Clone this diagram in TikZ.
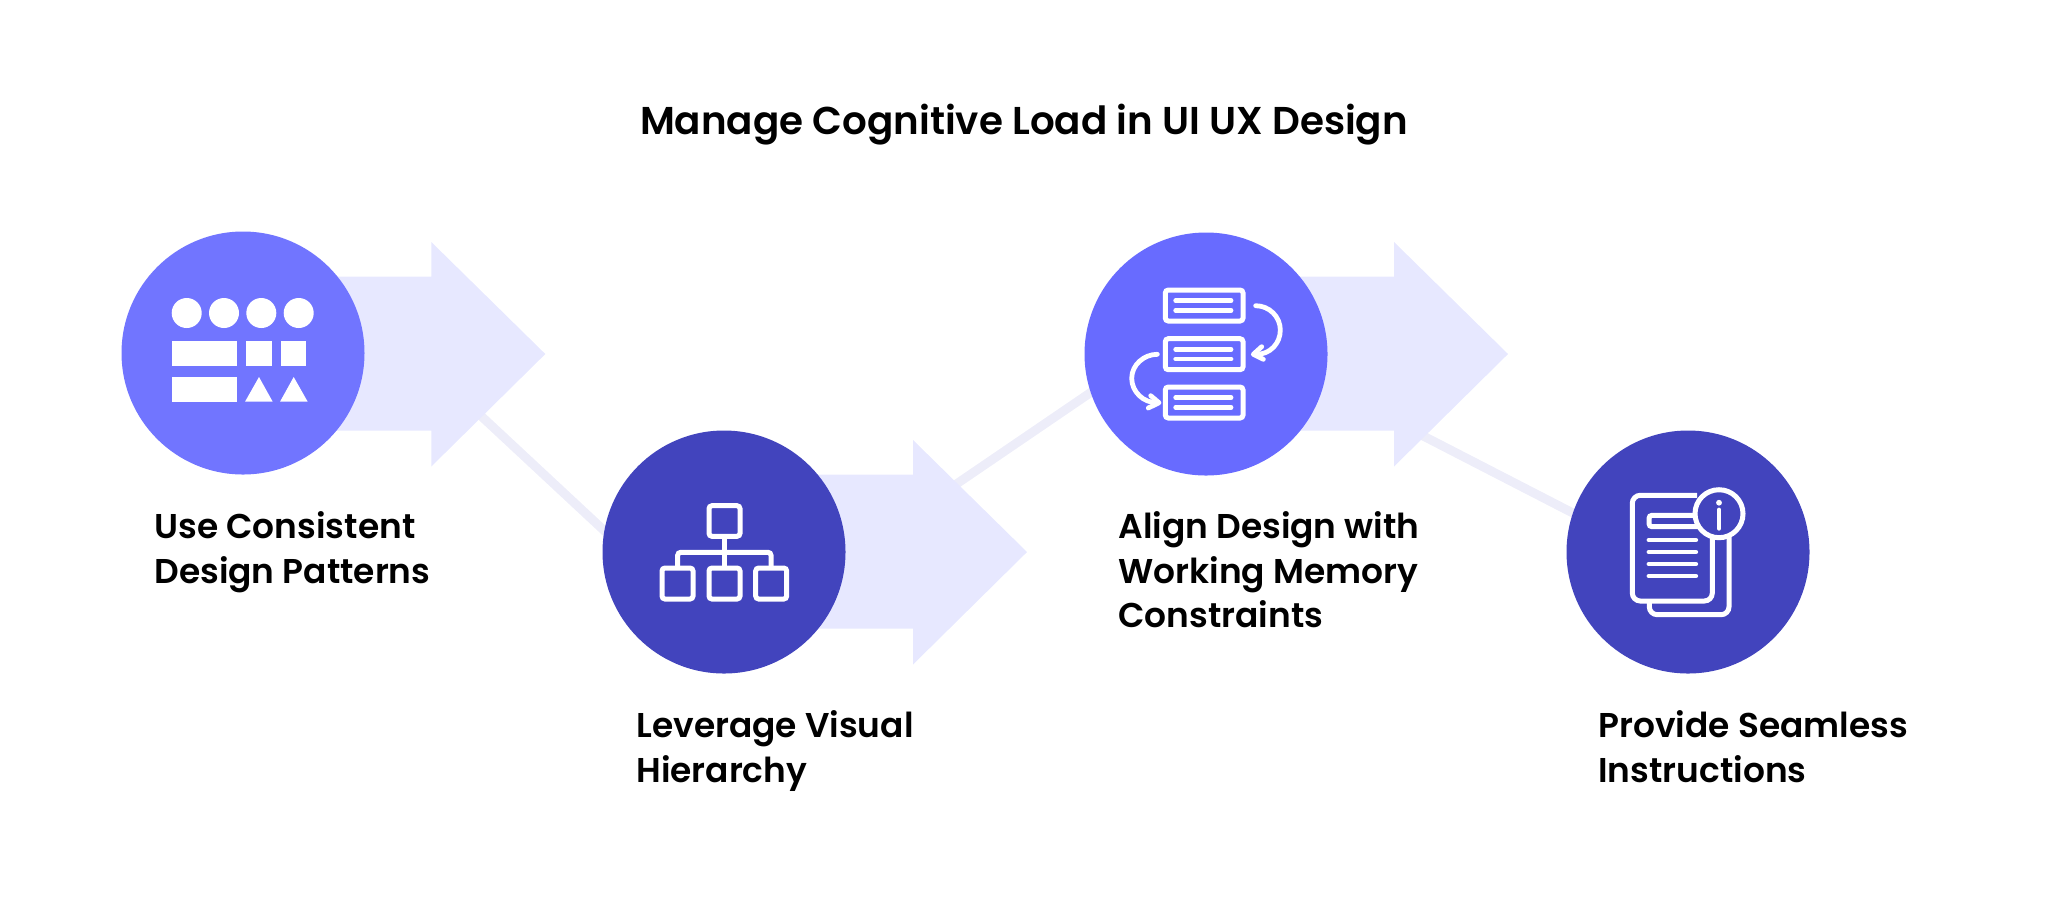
\documentclass[tikz,border=0pt]{standalone}
\usepackage{fontspec}
\setmainfont{Poppins}[UprightFont=* SemiBold]
\usetikzlibrary{backgrounds}
\definecolor{blueA}{HTML}{7175FF}
\definecolor{blueB}{HTML}{4244BD}
\definecolor{blueC}{HTML}{686BFF}
\definecolor{arrowfill}{HTML}{E7E8FF}
\definecolor{linkline}{HTML}{EDEDF9}
\tikzset{
  disc/.style={circle, minimum size=121.5pt, inner sep=0pt},
  label/.style={anchor=north west, inner sep=0pt, align=left, font=\fontsize{17.2}{22.4}\selectfont},
  iconline/.style={draw=white, line width=2.5pt, rounded corners=1.5pt},
  iconbar/.style={draw=white, line width=2.4pt, line cap=round},
  iconfill/.style={fill=white},
  link/.style={draw=linkline, line width=4.5pt}
}
\begin{document}
\begin{tikzpicture}[x=0.5pt, y=-0.5pt]
\useasboundingbox (0,0) rectangle (2048,923);
\node at (1024,125) (title) {\fontsize{19.4}{24}\selectfont Manage Cognitive Load in UI UX Design};
\node[disc, fill=blueA] at (243,353) (n1) {};
\node[disc, fill=blueB] at (724,552) (n2) {};
\node[disc, fill=blueC] at (1206,354) (n3) {};
\node[disc, fill=blueB] at (1688,552) (n4) {};
\node[label] at (154,511) (l1) {Use Consistent\\Design Patterns};
\node[label] at (636,710) (l2) {Leverage Visual\\Hierarchy};
\node[label] at (1118,511) (l3) {Align Design with\\Working Memory\\Constraints};
\node[label] at (1598,710) (l4) {Provide Seamless\\Instructions};
\coordinate (out1) at (450,387);
\coordinate (in2) at (640,564);
\coordinate (out2) at (930,502);
\coordinate (in3) at (1120,372.5);
\coordinate (out3) at (1400,424);
\coordinate (in4) at (1600,527);
\begin{scope}[on background layer]
\draw[link] (out1) -- (in2);
\draw[link] (out2) -- (in3);
\draw[link] (out3) -- (in4);
\foreach \tipx/\tipy in {545.3/354, 1027/552, 1508/354}
  \fill[arrowfill] (\tipx,\tipy) -- (\tipx-114,\tipy+112.5) -- (\tipx-114,\tipy+76.5)
    -- (\tipx-250,\tipy+76.5) -- (\tipx-250,\tipy-77.5) -- (\tipx-114,\tipy-77.5)
    -- (\tipx-114,\tipy-112) -- cycle;
\end{scope}
\foreach \dotx in {186.7,224,261.3,298.7}
  \fill[iconfill] (\dotx,313) circle (15);
\fill[iconfill] (171.7,341) rectangle (236.7,366);
\fill[iconfill] (246.3,341) rectangle (271.7,366);
\fill[iconfill] (281.3,341) rectangle (306.3,366);
\fill[iconfill] (171.7,376.7) rectangle (236.7,401.7);
\fill[iconfill] (245,401.7) -- (272.7,401.7) -- (259,377) -- cycle;
\fill[iconfill] (280,401.7) -- (307.7,401.7) -- (293.7,377) -- cycle;
\draw[iconline] (709,505.7) rectangle (740,536.3);
\foreach \boxx in {662,709,755.7}
  \draw[iconline] (\boxx,568) rectangle (\boxx+31,599);
\draw[iconline] (724.3,536.3) -- (724.3,568);
\draw[iconline] (677.7,568) -- (677.7,552.3) -- (771,552.3) -- (771,568);
\foreach \boxy in {290,338.7,387}
  \draw[iconline] (1165.3,\boxy) rectangle (1243,\boxy+31);
\foreach \bary in {300.7,310.3,349.3,359,397.7,407.3}
  \draw[iconbar] (1175.7,\bary) -- (1231,\bary);
\draw[iconbar] (1255.7,305.7) .. controls (1269.1,305.7) and (1280.3,316.6) .. (1280.3,330)
  .. controls (1280.3,343.4) and (1270.1,354.3) .. (1256.7,354.3);
\draw[iconbar, line join=round] (1261.7,346.7) -- (1253.3,354.3) -- (1263.3,359.3);
\draw[iconbar] (1157.3,354.3) .. controls (1143.9,354.3) and (1131.7,364.9) .. (1131.7,378.3)
  .. controls (1131.7,391.7) and (1143.3,402.7) .. (1156.7,402.7);
\draw[iconbar, line join=round] (1150.7,395.7) -- (1159,402.7) -- (1148.3,408);
\draw[iconline, rounded corners=4pt] (1697,495.3) -- (1632.3,495.3) -- (1632.3,601) -- (1712.3,601) -- (1712.3,536.7);
\draw[iconline, rounded corners=4pt] (1729,536.7) -- (1729,614.7) -- (1649.3,614.7) -- (1649.3,601);
\draw[iconline] (1697,515.3) -- (1649,515.3) -- (1649,526.7) -- (1697,526.7);
\foreach \bary in {540,552,564,576}
  \draw[iconbar] (1649,\bary) -- (1695.7,\bary);
\draw[draw=white, line width=2.5pt] (1719,513.7) circle (24);
\fill[iconfill] (1719,502.7) circle (2.9);
\draw[iconbar] (1719,510) -- (1719,528.3);
\end{tikzpicture}
\end{document}
